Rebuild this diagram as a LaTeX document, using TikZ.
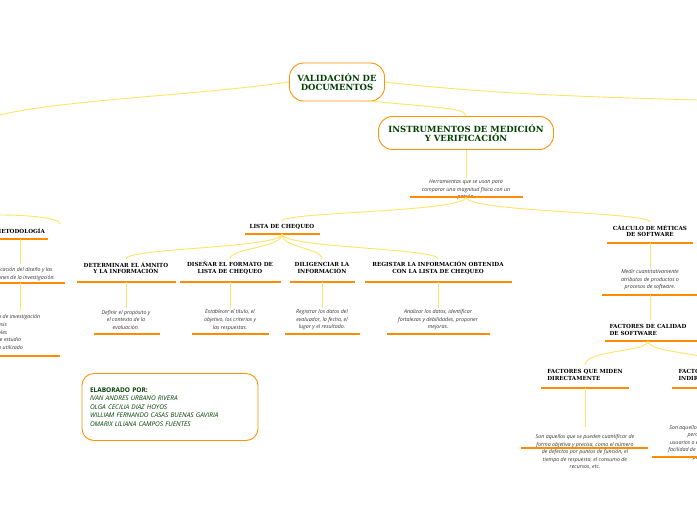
\documentclass[tikz,border=0pt]{standalone}
\usepackage{fontspec}
\setmainfont{Open Sans}
\newfontfamily\headf{DejaVu Serif}
\begin{document}
\begin{tikzpicture}[x=1pt,y=-1pt,
  conn/.style={draw=orange!35!yellow!60!white,line width=0.9pt},
  uline/.style={draw=orange!90!yellow,line width=1.3pt},
  title/.style={font=\headf\bfseries\fontsize{5.6}{6.6}\selectfont,align=center,text=black},
  bigbox/.style={draw=orange!85!yellow,line width=0.9pt,rounded corners=14pt,fill=white,font=\headf\bfseries\fontsize{8.5}{9.5}\selectfont,text=green!25!black,align=center},
  desc/.style={font=\itshape\fontsize{5.3}{7.6}\selectfont,text=black!80,align=center}]
\useasboundingbox[fill=white] (0,0) rectangle (697,520);
\begin{scope}
\clip (0,0) rectangle (697,520);
\node[bigbox,minimum width=95pt,minimum height=38pt] (root) at (337,82) {VALIDACIÓN DE\\DOCUMENTOS};
\node[bigbox,minimum width=175pt,minimum height=33pt] (inst) at (466,133) {INSTRUMENTOS DE MEDICIÓN\\Y VERIFICACIÓN};
\node[desc] (herr) at (466,190) {Herramientas que se usan para\\comparar una magnitud física con un\\patrón.};
\coordinate (herrU) at (466,197);
\draw[uline] (410,197) -- (523,197);
\node[title] (lista) at (282,227) {LISTA DE CHEQUEO};
\draw[uline] (245,234) -- (320,234);
\node[title] (calc) at (650,231) {CÁLCULO DE MÉTICAS\\DE SOFTWARE};
\draw[uline] (607,243) -- (693,243);
\node[desc] (medir) at (650,280) {Medir cuantitativamente\\atributos de productos o\\procesos de software.};
\draw[uline] (602,295) -- (697,295);
\node[title,align=left] (fcal) at (648,330) {FACTORES DE CALIDAD\\DE SOFTWARE};
\draw[uline] (605,341) -- (697,341);
\node[title,align=left] (fdir) at (585,375) {FACTORES QUE MIDEN\\DIRECTAMENTE};
\draw[uline] (541,388) -- (629,388);
\node[desc] (dirdesc) at (585,452) {Son aquellos que se pueden cuantificar de\\forma objetiva y precisa, como el número\\de defectos por puntos de función, el\\tiempo de respuesta, el consumo de\\recursos, etc.};
\draw[uline] (521,448) -- (648,448);
\node[title,align=left,anchor=west] (find) at (675,375) {FACTORES QUE MIDEN\\INDIRECTAMENTE};
\draw[uline] (672,388) -- (697,388);
\node[desc] (inddesc) at (708,443) {Son aquellos que dependen de la\\percepción de los\\usuarios o evaluadores, como la\\facilidad de uso, mantenibilidad y\\portabilidad.};
\draw[uline] (652,457) -- (697,457);
\node[title] (met) at (20,231) {METODOLOGÍA};
\draw[uline] (0,239) -- (48,239);
\node[desc] (metdesc) at (20,274) {Justificación del diseño y las\\decisiones de la investigación.};
\draw[uline] (0,283) -- (65,283);
\node[desc,align=left,anchor=west] (metlist) at (-18,332) {Diseño de investigación\\Hipótesis\\Variables\\Tipo de estudio\\Diseño utilizado};
\draw[uline] (0,356) -- (60,356);
\node[title] (c1) at (126,268) {DETERMINAR EL ÁMNITO\\Y LA INFORMACIÓN};
\draw[uline] (77,282) -- (176,282);
\node[title] (c2) at (230,268) {DISEÑAR EL FORMATO DE\\LISTA DE CHEQUEO};
\draw[uline] (180,282) -- (281,282);
\node[title] (c3) at (322,268) {DILIGENCIAR LA\\INFORMACIÓN};
\draw[uline] (290,282) -- (355,282);
\node[title] (c4) at (438,268) {REGISTAR LA INFORMACIÓN OBTENIDA\\CON LA LISTA DE CHEQUEO};
\draw[uline] (365,282) -- (512,282);
\node[desc] (d1) at (126,320) {Definir el propósito y\\el contexto de la\\evaluación.};
\draw[uline] (94,334) -- (160,334);
\node[desc] (d2) at (230,320) {Establecer el título, el\\objetivo, los criterios y\\las respuestas.};
\draw[uline] (192,334) -- (269,334);
\node[desc] (d3) at (322,320) {Registrar los datos del\\evaluador, la fecha, el\\lugar y el resultado.};
\draw[uline] (285,334) -- (360,334);
\node[desc] (d4) at (438,320) {Analizar los datos, identificar\\fortalezas y debilidades, proponer\\mejoras.};
\draw[uline] (387,334) -- (490,334);
\draw[conn] (root.west) .. controls (200,95) and (60,100) .. (0,115);
\draw[conn] (0,215) .. controls (30,215) and (60,218) .. (60,224);
\draw[conn] (root.east) .. controls (500,95) and (600,97) .. (697,100);
\draw[conn] (370,101) .. controls (440,108) and (466,108) .. (inst.north);
\draw[conn] (inst.south) -- (466,178);
\draw[conn] (herrU) .. controls (466,212) and (282,212) .. (282,221);
\draw[conn] (herrU) .. controls (466,212) and (650,212) .. (650,222);
\draw[conn] (282,234) .. controls (282,248) and (126,248) .. (126,259);
\draw[conn] (282,234) .. controls (282,248) and (230,248) .. (230,259);
\draw[conn] (282,234) .. controls (282,248) and (322,248) .. (322,259);
\draw[conn] (282,234) .. controls (282,248) and (438,248) .. (438,259);
\draw[conn] (126,282) -- (126,308);
\draw[conn] (230,282) -- (230,308);
\draw[conn] (322,282) -- (322,308);
\draw[conn] (438,282) -- (438,308);
\draw[conn] (650,243) -- (650,268);
\draw[conn] (650,295) -- (650,320);
\draw[conn] (648,341) .. controls (648,352) and (585,350) .. (585,365);
\draw[conn] (648,341) .. controls (648,352) and (697,352) .. (710,360);
\draw[conn] (585,388) -- (585,427);
\draw[conn] (20,239) -- (20,264);
\draw[conn] (20,283) -- (20,310);
\node[draw=orange!85!yellow,line width=0.9pt,rounded corners=12pt,minimum width=176pt,minimum height=67pt,text width=160pt,align=left,text=green!25!black,font=\fontsize{6.5}{8.4}\selectfont] (auth) at (170,407)
{\textbf{ELABORADO POR:}\\\textit{IVAN ANDRES URBANO RIVERA}\\\textit{OLGA CECILIA DIAZ HOYOS}\\\textit{WILLIAM FERNANDO CASAS BUENAS GAVIRIA}\\\textit{OMARIX LILIANA CAMPOS FUENTES}};
\end{scope}
\end{tikzpicture}
\end{document}
